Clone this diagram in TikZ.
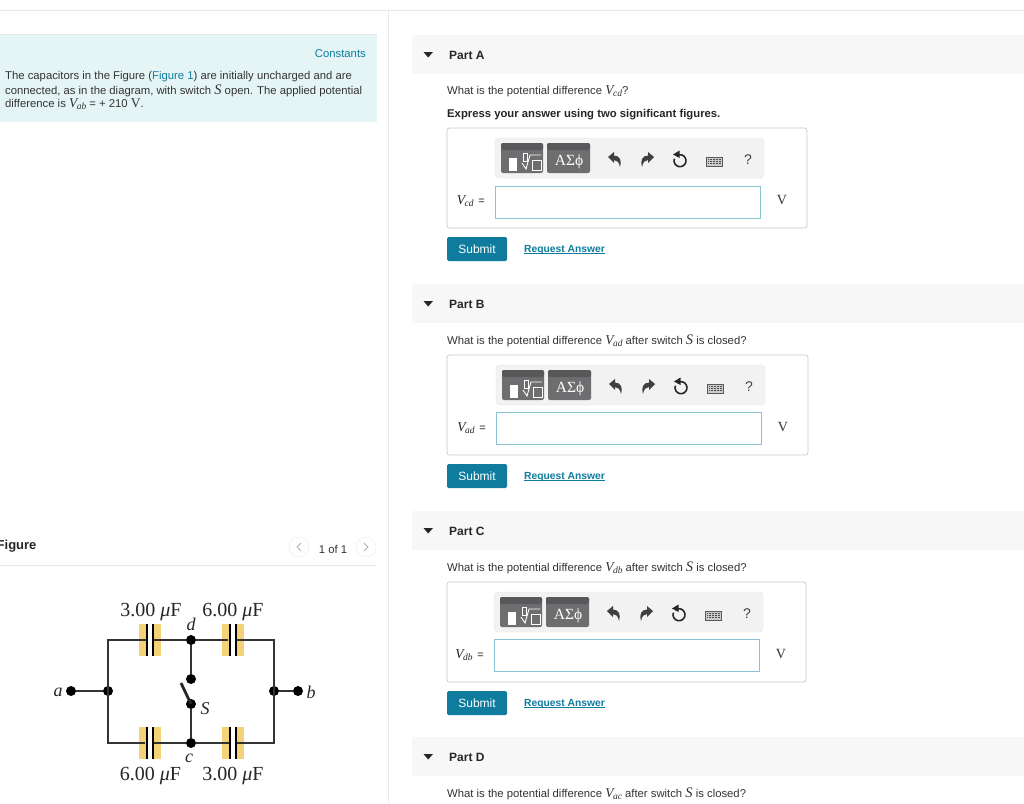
\documentclass[tikz,border=0pt]{standalone}
\usepackage{fontspec}
\setmainfont{Liberation Sans}
\newfontfamily\serifpart{Liberation Serif}
\usetikzlibrary{arrows.meta}
\definecolor{linkblue}{HTML}{0F7C9E}
\definecolor{panelteal}{HTML}{E5F5F6}
\definecolor{bandgray}{HTML}{F7F7F7}
\definecolor{edgegray}{HTML}{C8C8C8}
\definecolor{rulegray}{HTML}{E8E8E8}
\definecolor{inputblue}{HTML}{8CC3D2}
\definecolor{capyellow}{HTML}{F3D27A}
\definecolor{btndark}{HTML}{6E6E70}
\definecolor{btntop}{HTML}{58585A}
\tikzset{
  x=1pt,y=-1pt,
  body/.style={inner sep=0pt,anchor=west,yshift=-1pt,text=black!80,font=\fontsize{11.3}{14}\selectfont},
  boldbody/.style={body,text=black!85,font=\fontsize{11.3}{14}\selectfont\bfseries},
  link/.style={body,text=linkblue},
  circ/.style={inner sep=0pt,yshift=-1.5pt,text=black!85,font=\fontsize{20}{21}\serifpart},
  circit/.style={circ,yshift=0pt,font=\fontsize{18}{20}\serifpart\itshape},
  dot/.style={circle,fill=black,inner sep=0pt,minimum size=10pt},
  wire/.style={line width=1.5pt,black!80},
  plate/.style={fill=black,inner sep=0pt,minimum width=2pt,minimum height=32pt},
  strip/.style={fill=capyellow,inner sep=0pt,minimum width=8pt,minimum height=32pt},
  icon/.style={fill=black!75,draw=none},
}
\newcommand{\vsub}[2]{{\serifpart\itshape\fontsize{13.5}{14}\selectfont #1\kern-0.5pt\raisebox{-2pt}{\fontsize{9.5}{10}\selectfont #2}}}
\newcommand{\sws}{{\serifpart\itshape\fontsize{14.5}{14}\selectfont S}}
% one capacitor: name, x of the left plate, y of the wire
\newcommand{\capacitor}[3]{
  \node[strip] (#1ys) at (#2-4,#3) {};
  \node[strip] (#1zs) at (#2+10,#3) {};
  \node[plate] (#1l) at (#2,#3) {};
  \node[plate] (#1r) at (#2+6,#3) {};
}
% answer panel: name, x shift, y shift, letter pair, y shift of the input
\newcommand{\answerbox}[5]{
  \begin{scope}[shift={(0,#3)}]
  \draw[edgegray,line width=0.7pt,rounded corners=2.5pt] (447,128) rectangle (807+#2,228);
  \node[link,yshift=1pt,text=white,fill=linkblue,rounded corners=1.5pt,anchor=center,font=\fontsize{12}{14}\selectfont,minimum width=60pt,minimum height=24pt] (#1sub) at (477,249) {Submit};
  \node[link,yshift=1pt,font=\fontsize{10.3}{13}\selectfont\bfseries] (#1req) at (524,253) {\underline{\smash{Request Answer}}};
  \begin{scope}[shift={(#2,0)}]
  \fill[black!5,rounded corners=4pt] (495,138) rectangle (764,178);
  \draw[black!10,rounded corners=4pt] (495,138) rectangle (764,178);
  \fill[btndark,rounded corners=2pt] (501,143) rectangle (543,173);
  \fill[btntop,rounded corners=2pt] (501,143) rectangle (543,150);
  \fill[white] (509,158) rectangle (517,171);
  \draw[white,line width=0.6pt] (523,153) rectangle (527,161);
  \draw[white,line width=0.9pt] (522,163) -- (526,169) -- (530,155) -- (541,155);
  \draw[white,line width=0.8pt] (532,160) rectangle (541,170);
  \fill[btndark,rounded corners=2pt] (547,143) rectangle (590,173);
  \fill[btntop,rounded corners=2pt] (547,143) rectangle (590,150);
  \node[inner sep=0pt,text=white,font=\fontsize{15.5}{16}\serifpart] (#1greek) at (569,162) {ΑΣϕ};
  \fill[icon] (608,157) -- (614,152) -- (614,155.5) .. controls (620,155.5) and (622,161) .. (620,167) .. controls (619,162) and (617,160) .. (614,160) -- (614,163) -- cycle;
  \fill[icon] (654,157) -- (648,152) -- (648,155.5) .. controls (642,155.5) and (640,161) .. (642,167) .. controls (643,162) and (645,160) .. (648,160) -- (648,163) -- cycle;
  \draw[black!85,line width=1.6pt] (677,155.5) arc[start angle=120,end angle=-200,radius=6pt];
  \fill[black!85] (679.5,150.5) -- (679.5,158) -- (673,154.5) -- cycle;
  \draw[black!65,fill=black!20] (706,157) rectangle (722.5,166.5);
  \foreach \yy in {159,161,163} {\draw[black!70,line width=0.7pt,dash pattern=on 1pt off 0.5pt] (708,\yy) -- (720.5,\yy);}
  \node[inner sep=0pt,text=black!75,font=\fontsize{14}{15}\selectfont] (#1help) at (748,160) {?};
  \draw[inputblue,line width=0.8pt] (495,186+#5) rectangle (760,218+#5);
  \node[inner sep=0pt,anchor=east,text=black!85] (#1lab) at (485,201) {\vsub{V}{#4}\,\fontsize{11}{12}\selectfont\ =};
  \node[inner sep=0pt,text=black!80,font=\fontsize{14}{15}\serifpart] (#1unit) at (782,200) {V};
  \end{scope}
  \end{scope}
}
% grey band with the open triangle and the title
\newcommand{\partband}[2]{
  \fill[bandgray] (412,#1) rectangle (1024,#1+39);
  \fill[black!85] (423.5,#1+17) -- (433,#1+17) -- (428.2,#1+22.5) -- cycle;
  \node[boldbody,font=\fontsize{12}{14}\selectfont\bfseries] (part#2) at (449,#1+19) {Part #2};
}
\begin{document}
\begin{tikzpicture}
\useasboundingbox (0,0) rectangle (1024,803);
\fill[white] (0,0) rectangle (1024,803);

\draw[rulegray] (0,10.5) -- (1024,10.5);
\draw[rulegray] (388.5,10.5) -- (388.5,803);

\fill[panelteal] (0,35) rectangle (377,122);
\draw[rulegray] (0,34.5) -- (377,34.5);
\node[link,anchor=east] (const) at (366,52.5) {Constants};
\node[body] (introa) at (5,75.5) {The capacitors in the Figure (\textcolor{linkblue}{Figure 1}) are initially uncharged and are};
\node[body] (introb) at (5,89.5) {connected, as in the diagram, with switch \sws{} open. The applied potential};
\node[body] (introc) at (5,103.5) {difference is \vsub{V}{ab} = + 210 {\serifpart\fontsize{13.5}{14}\selectfont V}.};

\node[boldbody,font=\fontsize{13}{15}\selectfont\bfseries] (figtitle) at (-3.5,545.5) {Figure};
\draw[black!8,fill=white] (299,547) circle (10pt);
\draw[black!8,fill=white] (366,547) circle (10pt);
\draw[black!30,line width=0.8pt] (301,543) -- (297,547) -- (301,551);
\draw[black!30,line width=0.8pt] (364,543) -- (368,547) -- (364,551);
\node[body,anchor=center] (pager) at (333,548) {1 of 1};
\draw[rulegray] (0,565.5) -- (377,565.5);

\capacitor{ca}{147}{640}
\capacitor{cb}{229.5}{640}
\capacitor{cc}{146.5}{743}
\capacitor{cd}{230}{743}

\node[dot] (a) at (71,691) {};
\node[dot] (left) at (108,691) {};
\node[dot] (right) at (274,691) {};
\node[dot] (b) at (298,691) {};
\node[dot] (d) at (191,640) {};
\node[dot] (c) at (191,743) {};
\node[dot] (swtop) at (191,679) {};
\node[dot] (swbot) at (191,704) {};
\coordinate (blade) at (181,683);

\draw[wire] (a) -- (left);
\draw[wire] (right) -- (b);
\draw[wire] (left.center) |- (cal);
\draw[wire] (left.center) |- (ccl);
\draw[wire] (right.center) |- (cbr);
\draw[wire] (right.center) |- (cdr);
\draw[wire] (car) -- (d);
\draw[wire] (d) -- (cbl);
\draw[wire] (ccr) -- (c);
\draw[wire] (c) -- (cdl);
\draw[wire] (d) -- (swtop);
\draw[wire] (swbot) -- (c);
\draw[line width=2.8pt,black!85] (swbot.center) -- (blade);

\node[circ] (ca val) at (151,610) {3.00 \textit{μ}F};
\node[circ] (cb val) at (233,610) {6.00 \textit{μ}F};
\node[circ] (cc val) at (150.5,774) {6.00 \textit{μ}F};
\node[circ] (cd val) at (233,774) {3.00 \textit{μ}F};
\node[circit] (dlab) at (191,623) {d};
\node[circit] (clab) at (189,757) {c};
\node[circit] (slab) at (205,707) {S};
\node[circit] (alab) at (58,691) {a};
\node[circit] (blab) at (311,691) {b};

\partband{35}{A}
\node[body] (qa) at (447,90.5) {What is the potential difference \vsub{V}{cd}?};
\node[boldbody] (qahint) at (447,113.5) {Express your answer using two significant figures.};
\answerbox{ansa}{0}{0}{cd}{0}

\partband{284}{B}
\node[body] (qb) at (447,339.5) {What is the potential difference \vsub{V}{ad} after switch \sws{} is closed?};
\answerbox{ansb}{1}{227}{ad}{-1}

\partband{511}{C}
\node[body] (qc) at (447,566.5) {What is the potential difference \vsub{V}{db} after switch \sws{} is closed?};
\answerbox{ansc}{-1}{454}{db}{-1}

\partband{737}{D}
\node[body] (qd) at (447,793) {What is the potential difference \vsub{V}{ac} after switch \sws{} is closed?};
\end{tikzpicture}
\end{document}
